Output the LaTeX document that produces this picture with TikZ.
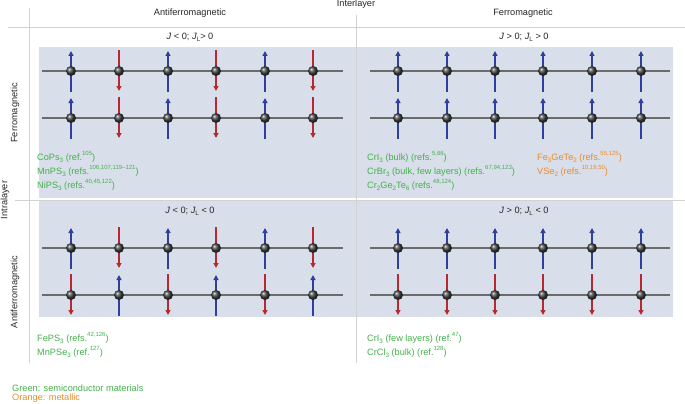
\documentclass[tikz,border=0pt]{standalone}
\usepackage{fontspec}
\setmainfont{Liberation Sans}
\usetikzlibrary{arrows.meta}
\definecolor{panel}{HTML}{D8DFEA}
\definecolor{frame}{HTML}{D2D2D2}
\definecolor{spinblue}{HTML}{2F3F9C}
\definecolor{spinred}{HTML}{B52A2E}
\definecolor{matgreen}{HTML}{44B04C}
\definecolor{matorange}{HTML}{F0891F}
\newcommand\dn[1]{\raisebox{-0.45ex}{\fontsize{6.3}{6.5}\selectfont #1}}
\newcommand\up[1]{\raisebox{0.95ex}{\fontsize{6}{6.5}\selectfont #1}}
\tikzset{
  hdr/.style={font=\fontsize{9.2}{10}\selectfont, text=black!85, inner sep=0pt},
  mat/.style={font=\fontsize{9.2}{10}\selectfont, anchor=west, inner sep=0pt, text=matgreen},
  metal/.style={mat, text=matorange},
  chain/.style={draw=black!58, line width=2pt},
  framel/.style={draw=frame, line width=0.9pt},
  upspin/.style={draw=spinblue, line width=2.6pt, -{Triangle[length=5pt,width=5pt]}},
  downspin/.style={draw=spinred, line width=2.6pt, -{Triangle[length=5pt,width=5pt]}},
}
\def\uspinsym{u}
\newcommand\spinat[3]{% x, y, u/d
  \edef\spintmp{#3}%
  \ifx\spintmp\uspinsym\draw[upspin] (#1,#2+21) -- (#1,#2-20);\else\draw[downspin] (#1,#2-21) -- (#1,#2+20);\fi
  \shade[ball color=black!75] (#1,#2) circle (5);}
\begin{document}
\begin{tikzpicture}[x=1pt,y=-1pt]
\useasboundingbox (0,0) rectangle (685,404);
% panels
\fill[panel] (39,47) rectangle (673,198);
\fill[panel] (39,201) rectangle (673,317);
% frame lines
\coordinate (t1) at (8,27); \coordinate (t2) at (685,27);
\coordinate (m1) at (15,200); \coordinate (m2) at (685,200);
\coordinate (v1) at (29,8); \coordinate (v2) at (29,363);
\coordinate (w1) at (356,15); \coordinate (w2) at (356,363);
\draw[framel] (t1) -- (t2);
\draw[framel] (m1) -- (m2);
\draw[framel] (v1) -- (v2);
\draw[framel] (w1) -- (w2);
% headers
\node[hdr] (inter) at (356,4.5) {Interlayer};
\node[hdr] (hafm) at (190,13) {Antiferromagnetic};
\node[hdr] (hfm) at (523,13) {Ferromagnetic};
\node[hdr, rotate=90] (intra) at (5,200) {Intralayer};
\node[hdr, rotate=90] (vfm) at (15,113) {Ferromagnetic};
\node[hdr, rotate=90] (vafm) at (15,292) {Antiferromagnetic};
\node[hdr] (c1) at (190,37) {\textit{J} < 0; \textit{J}\dn{L}> 0};
\node[hdr] (c2) at (524,37) {\textit{J} > 0; \textit{J}\dn{L} > 0};
\node[hdr] (c3) at (190,211) {\textit{J} < 0; \textit{J}\dn{L} < 0};
\node[hdr] (c4) at (524,211) {\textit{J} > 0; \textit{J}\dn{L} < 0};
% chains
\foreach \y in {71,118,248,295}{
  \draw[chain] (42,\y) -- (343,\y);
  \draw[chain] (370,\y) -- (670,\y);
}
% top-left: J<0, JL>0
\foreach \x/\s in {71/u,119/d,168/u,216/d,265/u,313/d}{
  \spinat{\x}{71}{\s}\spinat{\x}{118}{\s}}
% top-right
\foreach \x in {398,447,495,543,592,641}{
  \spinat{\x}{71}{u}\spinat{\x}{118}{u}}
% bottom-left
\foreach \x/\s/\t in {71/u/d,119/d/u,168/u/d,216/d/u,265/u/d,313/d/u}{
  \spinat{\x}{248}{\s}\spinat{\x}{295}{\t}}
% bottom-right
\foreach \x in {398,447,495,543,592,641}{
  \spinat{\x}{248}{u}\spinat{\x}{295}{d}}
% materials
\node[mat] (m11) at (37,157) {CoPs\dn{3} (ref.\up{105})};
\node[mat] (m12) at (37,171) {MnPS\dn{3} (refs.\up{106,107,119--121})};
\node[mat] (m13) at (37,185) {NiPS\dn{3} (refs.\up{40,45,122})};
\node[mat] (m21) at (367,157) {CrI\dn{3} (bulk) (refs.\up{5,66})};
\node[mat] (m22) at (367,171) {CrBr\dn{3} (bulk, few layers) (refs.\up{67,94,123})};
\node[mat] (m23) at (367,185) {Cr\dn{2}Ge\dn{2}Te\dn{6} (refs.\up{48,124})};
\node[metal] (m24) at (537,157) {Fe\dn{3}GeTe\dn{2} (refs.\up{55,125})};
\node[metal] (m25) at (537,171) {VSe\dn{2} (refs.\up{10,19,50})};
\node[mat] (m31) at (37,338) {FePS\dn{3} (refs.\up{42,126})};
\node[mat] (m32) at (37,352) {MnPSe\dn{3} (ref.\up{127})};
\node[mat] (m41) at (367,338) {CrI\dn{3} (few layers) (ref.\up{47})};
\node[mat] (m42) at (367,352) {CrCl\dn{3} (bulk) (ref.\up{128})};
% legend
\node[mat] (lg1) at (12,388) {Green: semiconductor materials};
\node[metal] (lg2) at (12,398.5) {Orange: metallic};
\end{tikzpicture}
\end{document}
